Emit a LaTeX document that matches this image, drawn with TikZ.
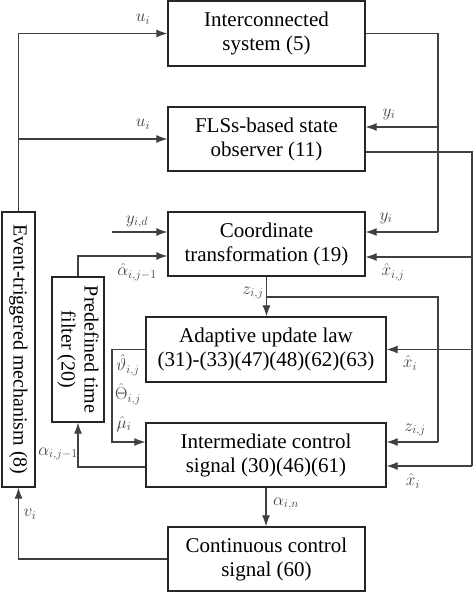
\documentclass[tikz,border=0pt]{standalone}
\usepackage{fontspec}
\setmainfont{Liberation Serif}
\usetikzlibrary{arrows.meta,calc}
\begin{document}
\begin{tikzpicture}[x=1pt,y=-1pt,
  blk/.style={draw=black!85,line width=1.3pt,rectangle,align=center,inner sep=0pt,
    font=\fontsize{21}{24}\selectfont},
  vblk/.style={blk,font=\fontsize{20}{23}\selectfont,rotate=-90},
  ln/.style={draw=black!75,line width=1.1pt},
  arr/.style={ln,-{Latex[length=11pt,width=8pt]}},
  lbl/.style={font=\fontsize{17}{19}\selectfont,text=black!75,inner sep=0pt}]
\useasboundingbox (0,0) rectangle (474,593);
% blocks
\node[blk,minimum width=197pt,minimum height=65pt] (is) at (266.5,33.5) {Interconnected\\system (5)};
\node[blk,minimum width=197pt,minimum height=64pt] (obs) at (266.5,139) {FLSs-based state\\observer (11)};
\node[blk,minimum width=197pt,minimum height=64pt] (ct) at (266.5,244) {Coordinate\\transformation (19)};
\node[blk,minimum width=240pt,minimum height=65pt] (aul) at (266,349.5) {Adaptive update law\\(31)-(33)(47)(48)(62)(63)};
\node[blk,minimum width=240pt,minimum height=64pt] (ics) at (266,455) {Intermediate control\\signal (30)(46)(61)};
\node[blk,minimum width=197pt,minimum height=64pt] (ccs) at (266.5,559) {Continuous control\\signal (60)};
\node[vblk,minimum width=275pt,minimum height=33pt] (etm) at (18.5,349.5) {Event-triggered mechanism (8)};
\node[vblk,minimum width=145pt,minimum height=52pt] (ptf) at (78,349.5) {Predefined time\\filter (20)};
% helper coordinates
\coordinate (r1) at (438,0);
\coordinate (r2) at (472,0);
\coordinate (yd) at (112,232);
\coordinate (al) at (112,0);
% u_i to system and observer
\draw[arr] (etm.west) |- (is.west);
\draw[arr] (etm.west |- obs.west) -- (obs.west);
% v_i
\draw[arr] (ccs.west) -| (etm.east);
% y_i
\draw[ln] (is.east) -| (r1 |- 0,232);
\draw[arr] (r1 |- 0,127) -- (obs.east |- 0,127);
\draw[arr] (r1 |- 0,232) -- (ct.east |- 0,232);
% x hat
\draw[ln] (obs.east |- 0,152) -| (r2 |- 0,466);
\draw[arr] (r2 |- 0,257) -- (ct.east |- 0,257);
\draw[arr] (r2 |- aul.east) -- (aul.east);
\draw[arr] (r2 |- 0,466) -- (ics.east |- 0,466);
% y_{i,d}
\draw[arr] (yd) -- (ct.west |- yd);
% alpha hat from filter
\draw[arr] (ptf.west) |- (ct.west |- 0,256);
% z_{i,j}
\draw[arr] (ct.south) -- (ct.south |- aul.north);
\draw[ln] (ct.south |- 0,297) -| (r1 |- 0,442);
\draw[arr] (r1 |- 0,442) -- (ics.east |- 0,442);
% adaptive outputs to intermediate
\draw[arr] (aul.west) -| (al |- 0,442) -- (ics.west |- 0,442);
% alpha_{i,j-1} to filter
\draw[arr] (ics.west |- 0,467) -| (ptf.east);
% alpha_{i,n}
\draw[arr] (ics.south) -- (ics.south |- ccs.north);
% labels
\node[lbl] (l1) at (143,19) {$u_i$};
\node[lbl] (l2) at (143,124) {$u_i$};
\node[lbl] (l3) at (389,114) {$y_i$};
\node[lbl] (l4) at (386,218) {$y_i$};
\node[lbl] (l5) at (393,272) {$\hat{x}_{i,j}$};
\node[lbl] (l6) at (410,363) {$\hat{x}_i$};
\node[lbl] (l7) at (415,430) {$z_{i,j}$};
\node[lbl] (l8) at (413,481) {$\hat{x}_i$};
\node[lbl] (l9) at (253,293) {$z_{i,j}$};
\node[lbl] (l10) at (286,504) {$\alpha_{i,n}$};
\node[lbl] (l11) at (30,514) {$v_i$};
\node[lbl] (l12) at (58,454) {$\alpha_{i,j{-}1}$};
\node[lbl] (l13) at (137,222) {$y_{i,d}$};
\node[lbl] (l14) at (137,272) {$\hat{\alpha}_{i,j{-}1}$};
\node[lbl] (l15) at (128,365) {$\hat{\vartheta}_{i,j}$};
\node[lbl] (l16) at (128,394) {$\hat{\Theta}_{i,j}$};
\node[lbl] (l17) at (124,424) {$\hat{\mu}_i$};
\end{tikzpicture}
\end{document}
